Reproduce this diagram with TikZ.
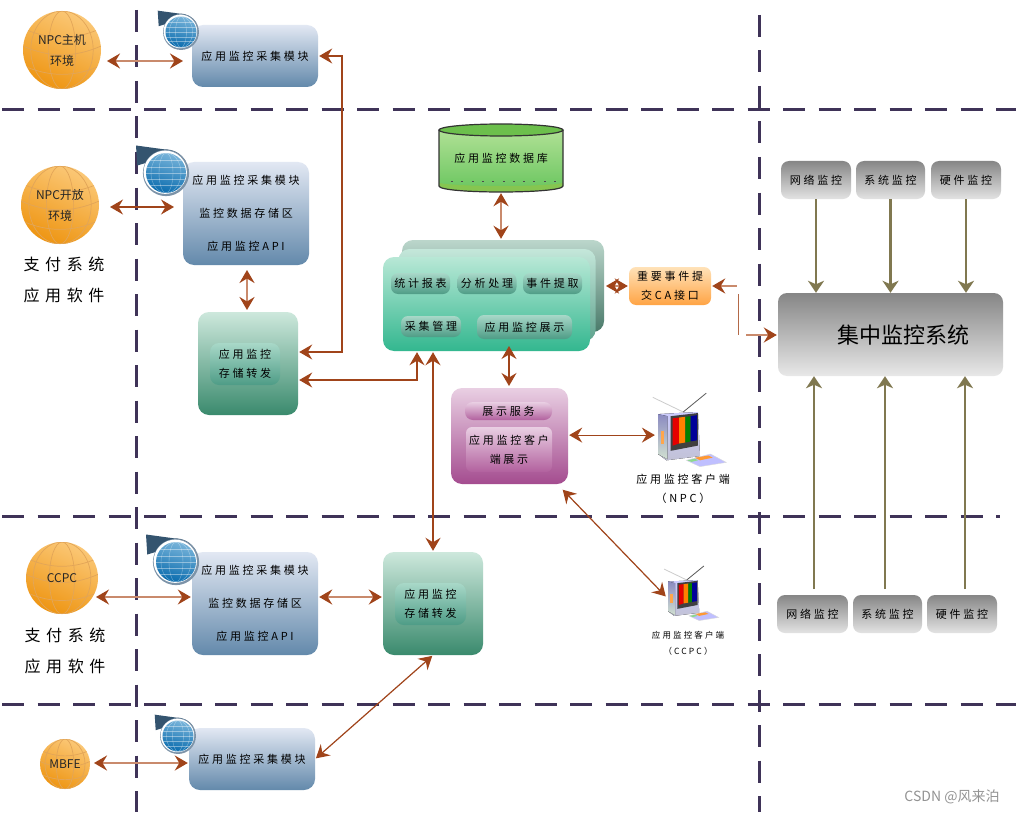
\documentclass[tikz,border=0pt]{standalone}
\usepackage{fontspec}
\setmainfont{Noto Sans CJK SC}
\newfontfamily\cjk[LetterSpace=25]{Noto Sans CJK SC}
\newfontfamily\cjkw[LetterSpace=35]{Noto Sans CJK SC}
\newfontfamily\cjkp{Noto Sans CJK SC}
\usetikzlibrary{arrows.meta}
\definecolor{dashc}{HTML}{3F3358}
\definecolor{brn}{HTML}{A0441A}
\definecolor{brnl}{HTML}{C98A6C}
\definecolor{olv}{HTML}{807850}
\definecolor{colltop}{HTML}{E2E8F3}
\definecolor{collbot}{HTML}{6389AB}
\definecolor{grntop}{HTML}{CDE8DC}
\definecolor{grnbot}{HTML}{3A8A6D}
\definecolor{pilltop}{HTML}{A8D8C8}
\definecolor{pillbot}{HTML}{4E9C86}
\definecolor{stacktop}{HTML}{B8E8D6}
\definecolor{stackbot}{HTML}{33B78F}
\definecolor{BBstackA}{HTML}{BBD6CB}
\definecolor{BBstackB}{HTML}{4A7A6A}
\definecolor{BBstackC}{HTML}{C4E7DA}
\definecolor{BBstackD}{HTML}{5FA38E}
\definecolor{HeadBlue}{HTML}{34546F}
\definecolor{ortop}{HTML}{FBC877}
\definecolor{orbot}{HTML}{EE9512}
\definecolor{orline}{HTML}{E2A558}
\definecolor{ringc}{HTML}{7C93A8}
\definecolor{glbtop}{HTML}{78B4DA}
\definecolor{glbbot}{HTML}{0A6CAE}
\definecolor{mvtop}{HTML}{E9CFE3}
\definecolor{mvbot}{HTML}{A44C8F}
\definecolor{mvin}{HTML}{B2619E}
\definecolor{catop}{HTML}{FFE2B8}
\definecolor{cabot}{HTML}{FFA445}
\definecolor{dbtop}{HTML}{B9E49C}
\definecolor{dbbot}{HTML}{66C45C}
\definecolor{dblid}{HTML}{6CBF4C}
\definecolor{dbband}{HTML}{86C550}
\tikzset{
 brtip/.tip={Stealth[length=13pt,width=15pt,inset=4.5pt,brn]},
 sep/.style={draw=dashc,line width=3pt,dash pattern=on 22pt off 13.5pt},
 txt/.style={font=\cjk\fontsize{11}{#1}\selectfont,align=center,text=black,inner sep=0pt},
 txt/.default=19,
 boxbase/.style={rounded corners=11pt,inner sep=0pt,txt},
 coll/.style={boxbase,top color=colltop,bottom color=collbot},
 greenb/.style={boxbase,top color=grntop,bottom color=grnbot},
 pill/.style={rounded corners=7pt,txt,top color=pilltop,bottom color=pillbot},
 purp/.style={rounded corners=6pt,txt},
 graybox/.style={boxbase,rounded corners=8pt,top color=gray!95,bottom color=gray!22},
 link/.style={draw=brn,line width=1.2pt,brtip-brtip,shorten >=1pt,shorten <=1pt},
 linkw/.style={link,draw=brnl,line width=2.6pt},
 linkm/.style={link,draw=brnl,line width=1.6pt},
 olink/.style={draw=olv,line width=2.4pt,-{Stealth[length=12pt,width=16pt,inset=3.5pt]}},
 gline/.style={draw=orline,line width=.7pt},
 capt/.style={font=\cjkw\fontsize{16}{31}\selectfont,align=center,inner sep=0pt},
}
% name, x, y, r, text
\newcommand{\orangeglobe}[5]{%
 \node[circle,minimum size=#4*2pt,inner sep=0pt,top color=ortop,bottom color=orbot,shading angle=-25] (#1) at (#2,#3) {};
 \begin{scope}[shift={(#2,#3)}]
  \clip (0,0) circle (#4);
  \foreach \k in {.35,.8}{\draw[gline] (0,0) ellipse ({\k*#4} and #4);}
  \foreach \k in {-.55,-.1,.4}{\draw[gline] (-#4,{\k*#4}) .. controls (-.3*#4,{(\k+.3)*#4}) and (.3*#4,{(\k+.3)*#4}) .. (#4,{\k*#4});}
 \end{scope}
 \node[font=\cjkp\fontsize{12}{21}\selectfont,align=center,inner sep=0pt,text=black!85] at (#2,#3) {#5};
}
% name, x, y, scale (1 = radius 17)
\newcommand{\blueglobe}[4]{%
 \begin{scope}[shift={(#2,#3)},scale=#4]
  \fill[HeadBlue] (-24,-22) -- (-23,-6) -- (-13,-9) -- (0,-12) -- (16,-9) .. controls (12,-16) and (6,-19) .. (-2,-19) -- cycle;
  \fill[ringc] (0,0) circle (18.5);
  \fill[white] (-.6,-.6) circle (17.3);
  \shade[top color=glbtop,bottom color=glbbot,shading angle=-15] (0,0) circle (16);
  \begin{scope}
   \clip (0,0) circle (16);
   \foreach \k in {.35,.75}{\draw[white,opacity=.4,line width=.4pt] (0,0) ellipse ({\k*16} and 16);}
   \foreach \k in {-10,-5,0,5,10}{\draw[white,opacity=.4,line width=.4pt] (-16,\k) -- (16,\k);}
  \end{scope}
  \coordinate (#1) at (0,0);
 \end{scope}
}
% name, x, y (body top-left), scale
\newcommand{\tvicon}[4]{%
 \begin{scope}[shift={(#2,#3)},scale=#4]
  \draw[gray!40,line width=.8pt] (24,0) -- (-5,-14);
  \draw[gray!70!black,line width=.8pt] (24,0) -- (46,-18);
  \fill[top color=white!80!blue,bottom color=blue!20!gray!40] (0,2) -- (38,0) -- (40,42) -- (8,46) -- (0,40) -- cycle;
  \fill[bottom color=green!20!gray!30,top color=blue!30!gray!70] (0,2) -- (9,4) -- (9,45) -- (0,40) -- cycle;
  \fill[orange!70] (3,18) rectangle (6,30);
  \fill[black!75] (12,4) -- (38,1) -- (38,32) -- (12,37) -- cycle;
  \fill[red!90!black] (14,6) -- (20,5.3) -- (20,30) -- (14,32) -- cycle;
  \fill[orange] (20,5.3) -- (26,4.6) -- (26,29) -- (20,30) -- cycle;
  \fill[green!50!black] (26,4.6) -- (31,4) -- (31,28) -- (26,29) -- cycle;
  \fill[blue!60!black] (31,4) -- (37,3) -- (37,27) -- (31,28) -- cycle;
  \fill[blue!25!white,draw=gray!30] (27,46) -- (50,40) -- (65,48) -- (40,52) -- cycle;
  \fill[orange!80] (35,43.5) -- (48,41.5) -- (52,43.5) -- (40,46) -- cycle;
  \fill[green!50!gray!60] (28,46) -- (35,44.5) -- (38,46) -- (32,47.5) -- cycle;
  \coordinate (#1) at (-2,22);
 \end{scope}
}
\begin{document}
\begin{tikzpicture}[x=1pt,y=-1pt]
\useasboundingbox (0,0) rectangle (1016,813);
\fill[white] (0,0) rectangle (1016,813);

% separators
\coordinate (h1a) at (2,110); \coordinate (h1b) at (1016,110);
\coordinate (h2a) at (2,516); \coordinate (h2b) at (1000,516);
\coordinate (h3a) at (2,704); \coordinate (h3b) at (1016,704);
\coordinate (v1a) at (136,10); \coordinate (v1b) at (136,812);
\coordinate (v2a) at (759,15); \coordinate (v2b) at (759,812);
\draw[sep] (h1a) -- (h1b);
\draw[sep] (h2a) -- (h2b);
\draw[sep] (h3a) -- (h3b);
\draw[sep] (v1a) -- (v1b);
\draw[sep] (v2a) -- (v2b);

% globes
\orangeglobe{gA}{62}{50}{39}{NPC主机\\环境}
\orangeglobe{gB}{60}{205}{39}{NPC开放\\环境}
\orangeglobe{gC}{62}{578}{36}{CCPC}
\orangeglobe{gD}{65}{764}{25}{MBFE}
\node[capt] (capA) at (64,280) {支付系统\\应用软件};
\node[capt] (capB) at (65,651) {支付系统\\应用软件};

% collector boxes
\node[coll,minimum width=126pt,minimum height=62pt] (bA) at (255,56) {应用监控采集模块};
\node[coll,minimum width=126pt,minimum height=103pt,font=\cjk\fontsize{11}{33}\selectfont] (bB) at (246,213.5) {应用监控采集模块\\监控数据存储区\\应用监控API};
\node[coll,minimum width=126pt,minimum height=103pt,font=\cjk\fontsize{11}{33}\selectfont] (bD) at (255,603.5) {应用监控采集模块\\监控数据存储区\\应用监控API};
\node[coll,minimum width=126pt,minimum height=62pt] (bF) at (252,759) {应用监控采集模块};
\blueglobe{ga}{181}{32}{.97}
\blueglobe{gb}{166}{173}{1.25}
\blueglobe{gd}{176}{562}{1.25}
\blueglobe{gf}{178}{736}{.97}

% forwarders
\node[greenb,minimum width=100pt,minimum height=103pt] (fA) at (248,363.5) {};
\node[pill,rounded corners=9pt,minimum width=70pt,minimum height=42pt] (fAi) at (245,364) {应用监控\\存储转发};
\node[greenb,minimum width=100pt,minimum height=103pt] (fB) at (433,603.5) {};
\node[pill,rounded corners=9pt,minimum width=71pt,minimum height=42pt] (fBi) at (430.5,604) {应用监控\\存储转发};

% database
\shade[top color=dbtop,bottom color=dbbot] (439,130) -- (439,186) .. controls (439,194) and (563,194) .. (563,186) -- (563,130) .. controls (563,122) and (439,122) .. cycle;
\fill[dbband] (439,183) .. controls (460,187) and (542,187) .. (563,183) -- (563,186) .. controls (563,194) and (439,194) .. (439,186) -- cycle;
\fill[dblid] (501,130) ellipse (62 and 6);
\draw[black!80,line width=1.2pt] (439,130) -- (439,186) .. controls (439,194) and (563,194) .. (563,186) -- (563,130);
\draw[black!80,line width=1.2pt] (501,130) ellipse (62 and 6);
\node[txt,minimum width=124pt,minimum height=68pt] (db) at (501,158) {应用监控数据库};
\foreach \i in {0,...,10}{\fill[black!70] ({451+\i*10.3},181) rectangle +(2,1.2);}

% central stack
\node[boxbase,minimum width=202pt,minimum height=92pt,top color=BBstackA,bottom color=BBstackB] (st3) at (503,286) {};
\node[boxbase,minimum width=197pt,minimum height=92pt,top color=BBstackC,bottom color=BBstackD] (st2) at (497,295) {};
\node[boxbase,minimum width=207pt,minimum height=94pt,top color=stacktop,bottom color=stackbot] (st) at (486.5,304) {};
\node[pill,minimum width=59pt,minimum height=21pt] (p1) at (420.5,283.5) {统计报表};
\node[pill,minimum width=59pt,minimum height=21pt] (p2) at (487,283.5) {分析处理};
\node[pill,minimum width=59pt,minimum height=21pt] (p3) at (552.5,283.5) {事件提取};
\node[pill,minimum width=60pt,minimum height=21pt] (p4) at (431,326.5) {采集管理};
\node[pill,minimum width=95pt,minimum height=24pt] (p5) at (524.5,327) {应用监控展示};

% orange interface
\node[boxbase,rounded corners=7pt,top color=catop,bottom color=cabot,minimum width=82pt,minimum height=38pt] (ca) at (670,286) {重要事件提\\交CA接口};

% purple
\node[boxbase,top color=mvtop,bottom color=mvbot,minimum width=117pt,minimum height=96pt] (pu) at (509.5,436) {};
\node[purp,rounded corners=8pt,top color=mvtop,bottom color=mvin,minimum width=87pt,minimum height=18pt] (pu1) at (508.5,411) {展示服务};
\node[purp,top color=mvtop,bottom color=mvin,minimum width=86pt,minimum height=45pt] (pu2) at (509,449.5) {应用监控客户\\端展示};

% central system
\node[boxbase,rounded corners=9pt,top color=gray!95,bottom color=gray!18,minimum width=225pt,minimum height=83pt] (cs) at (890.5,334.5) {};
\node[inner sep=0pt,font=\cjkp\fontsize{22}{24}\selectfont] (cst) at (903,335) {集中监控系统};
\node[graybox,minimum width=70pt,minimum height=38pt] (t1) at (816,180) {网络监控};
\node[graybox,minimum width=69pt,minimum height=38pt] (t2) at (890.5,180) {系统监控};
\node[graybox,minimum width=70pt,minimum height=38pt] (t3) at (966,180) {硬件监控};
\node[graybox,minimum width=71pt,minimum height=38pt] (u1) at (812.5,614) {网络监控};
\node[graybox,minimum width=69pt,minimum height=38pt] (u2) at (887.5,614) {系统监控};
\node[graybox,minimum width=70pt,minimum height=38pt] (u3) at (962,614) {硬件监控};

% TVs
\tvicon{tvA}{658}{412}{1.05}
\tvicon{tvB}{668}{580}{.78}
\node[txt] (tvAt) at (683,489) {应用监控客户端\\（NPC）};
\node[txt,font=\cjk\fontsize{8.5}{16}\selectfont] (tvBt) at (688,643) {应用监控客户端\\（CCPC）};

% olive arrows
\draw[olink] (t1.south) -- (t1.south |- cs.north);
\draw[olink] (t2.south) -- (t2.south |- cs.north);
\draw[olink] (t3.south) -- (t3.south |- cs.north);
\coordinate (o1) at (814,589); \coordinate (o2) at (885,589); \coordinate (o3) at (965,589);
\draw[olink] (o1) -- (o1 |- cs.south);
\draw[olink] (o2) -- (o2 |- cs.south);
\draw[olink] (o3) -- (o3 |- cs.south);

% links
\coordinate (lA1) at (106,61); \coordinate (lA2) at (184,61);
\draw[linkw] (lA1) -- (lA2);
\coordinate (lB1) at (109,207); \coordinate (lB2) at (175,207);
\draw[link] (lB1) -- (lB2);
\coordinate (rail) at (342,200);
\draw[link] (bA.east) -| (rail) |- ([yshift=11.5pt]fA.east);
\coordinate (lv1) at (247,269); \coordinate (lv2) at (247,311);
\draw[linkw] (lv1) -- (lv2);
\draw[link] ([yshift=-16.5pt]fA.east) -| ([xshift=-69.5pt]st.south);
\draw[link,line width=1.8pt] (fB.north |- st.south) -- (fB.north);
\draw[linkw] (db.south) -- (db.south |- st3.north);
\coordinate (puT) at (509,345); \coordinate (puB) at (509,387);
\draw[link] (puT) -- (puB);
\coordinate (stE) at (605,286);
\draw[linkw] (stE) -- (ca.west);
\coordinate (kn1) at (738,286); \coordinate (kn2) at (738,294); \coordinate (kn3) at (738,335); \coordinate (kn4) at (745,335);
\draw[linkw,brtip-] (ca.east) -- (kn1);
\draw[draw=brn!80,line width=.9pt] (kn2) -- (kn3);
\draw[linkw,-brtip] (kn4) -- (cs.west |- kn4);
\draw[link] (pu.east |- tvA) -- (tvA);
\coordinate (pF) at (562,489);
\draw[link] (pF) -- (tvB);
\coordinate (lC1) at (95,597);
\draw[linkm] (lC1) -- (bD.west |- lC1);
\draw[linkw] (bD.east |- lC1) -- (fB.west |- lC1);
\draw[link] (fB.south) -- (bF.east);
\coordinate (lD1) at (93,763);
\draw[linkw] (lD1) -- (bF.west |- lD1);

\node[inner sep=0pt,text=gray!85,font=\cjkp\fontsize{14}{16}\selectfont] (wm) at (952,797) {CSDN @风来泊};
\end{tikzpicture}
\end{document}
